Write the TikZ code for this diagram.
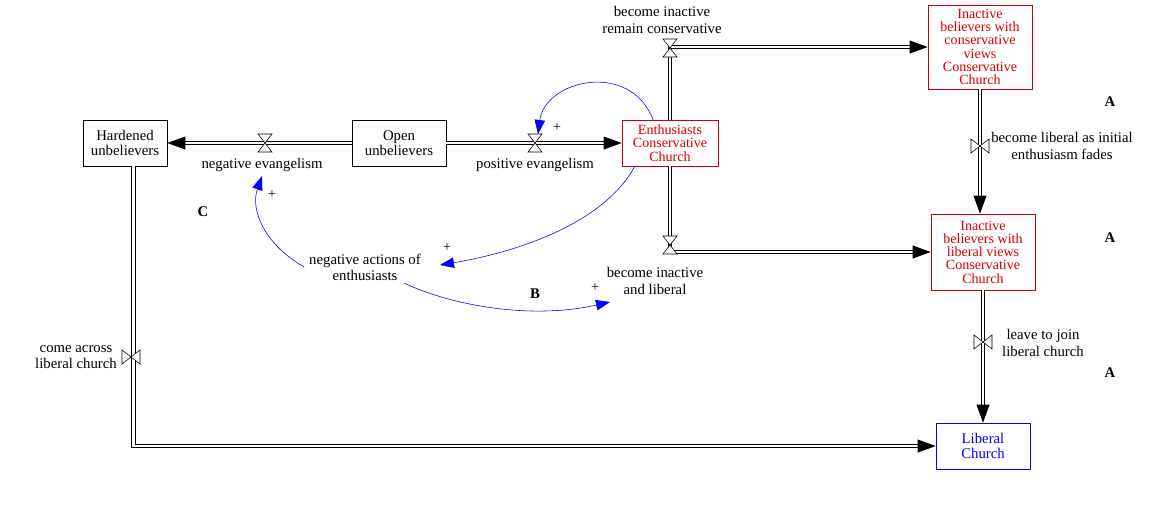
\documentclass[tikz,border=0pt]{standalone}
\usepackage{fontspec}
\setmainfont{Liberation Serif}
\usetikzlibrary{arrows.meta, positioning}

\begin{document}
\begin{tikzpicture}[
        x=0.025cm, y=-0.025cm,
        stock/.style={
            rectangle,
            draw,
            align=center,
            inner sep=2pt,
            font=\fontsize{10.5}{10.5}\selectfont
        },
        redstock/.style={
            stock,
            draw=red!80!black,
            text=red!85!black,
            inner sep=1pt,
            font=\fontsize{10}{9.4}\selectfont
        },
        label/.style={
            align=center,
            font=\fontsize{10.5}{11.5}\selectfont
        },
        flow/.style={
            draw,
            double,
            double distance=2pt,
            line width=0.7pt,
            -{Triangle[length=4.5mm, width=3.2mm]}
        },
        link/.style={
            draw=blue,
            thin,
            -{Triangle[length=3.5mm, width=2.6mm]}
        },
        valve/.style={
            draw, fill=white, thin
        },
        loop/.style={font=\bfseries\fontsize{10.5}{10.5}\selectfont}
    ]
    \useasboundingbox (0,0) rectangle (1167,509);

    % Stocks
    \node[stock, minimum width=2.1cm, minimum height=1.15cm] (hard) at (125,143) {Hardened\\unbelievers};
    \node[stock, minimum width=2.35cm, minimum height=1.15cm] (open) at (399,143) {Open\\unbelievers};
    \node[redstock, minimum width=2.4cm, minimum height=1.15cm] (enth) at (670,143) {Enthusiasts\\Conservative\\Church};
    \node[redstock, minimum width=2.6cm, minimum height=2.1cm] (incons) at (980,47) {Inactive\\believers with\\conservative\\views\\Conservative\\Church};
    \node[redstock, minimum width=2.6cm, minimum height=1.9cm] (inlib) at (983,252) {Inactive\\believers with\\liberal views\\Conservative\\Church};
    \node[stock, draw=blue, text=blue, minimum width=2.35cm, minimum height=1.15cm] (lib) at (983,446) {Liberal\\Church};

    % Flows
    \path[flow] (open.west) -- (hard.east);
    \path[flow] (open.east) -- (enth.west);
    \path[flow] (enth.north) |- (incons.west);
    \path[flow] (enth.south) |- (inlib.west);
    \path[flow] (incons.south) -- (incons.south |- inlib.north);
    \path[flow] (inlib.south) -- (lib.north);
    \path[flow] ([xshift=6]hard.south) |- (lib.west);

    % Valves
    \coordinate (vneg) at (265,143);
    \coordinate (vpos) at (535,143);
    \coordinate (vcons) at (670,48);
    \coordinate (vlib) at (670,245);
    \coordinate (vfade) at (980,146);
    \coordinate (vjoin) at (983,342);
    \coordinate (vacross) at (131,357);
    \foreach \v in {vneg, vpos, vcons, vlib}
        \path[valve] ([shift={(-7,-9)}]\v) -- ([shift={(7,-9)}]\v) -- ([shift={(-7,9)}]\v) -- ([shift={(7,9)}]\v) -- cycle;
    \foreach \v in {vfade, vjoin, vacross}
        \path[valve] ([shift={(-9,-7)}]\v) -- ([shift={(-9,7)}]\v) -- ([shift={(9,-7)}]\v) -- ([shift={(9,7)}]\v) -- cycle;

    % Flow labels
    \node[label] (negev) at (262,165) {negative evangelism};
    \node[label] (posev) at (535,165) {positive evangelism};
    \node[label] (remcons) at (662,20) {become inactive\\remain conservative};
    \node[label] (inactlib) at (655,281) {become inactive\\and liberal};
    \node[label] (fades) at (1062,146) {become liberal as initial\\enthusiasm fades};
    \node[label] (join) at (1043,343) {leave to join\\liberal church};
    \node[label] (across) at (76,357) {come across\\liberal church};
    \node[label] (negact) at (365,267) {negative actions of\\enthusiasts};

    % Causal links
    \path[link] ([xshift=-12]enth.north) .. controls (630,60) and (545,80) .. (538,134);
    \path[link] ([xshift=-25]enth.south) .. controls (600,230) and (500,255) .. (440,265);
    \path[link] (negact.west) .. controls (265,245) and (250,210) .. (262,176);
    \path[link] (404,283) .. controls (450,305) and (530,320) .. (610,302);
    \node at (557,128) {+};
    \node at (447,248) {+};
    \node at (272,195) {+};
    \node at (595,288) {+};

    % Loop labels
    \node[loop] at (1110,102) {A};
    \node[loop] at (1110,238) {A};
    \node[loop] at (1110,373) {A};
    \node[loop] at (535,294) {B};
    \node[loop] at (203,212) {C};
\end{tikzpicture}
\end{document}
